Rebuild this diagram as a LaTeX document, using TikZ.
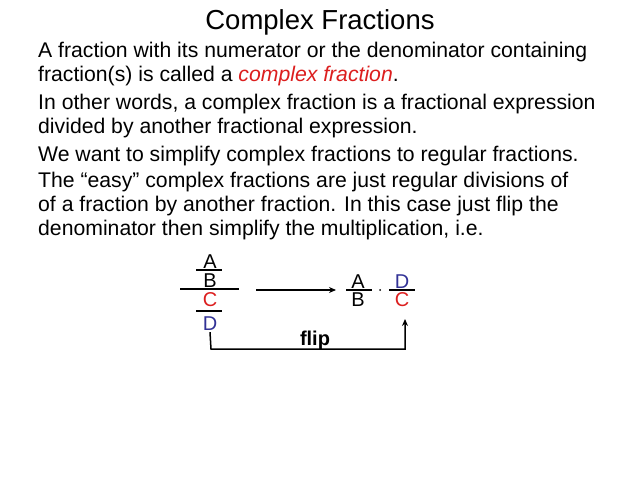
\documentclass[tikz,border=0pt]{standalone}
\usepackage{fontspec}
\usetikzlibrary{arrows.meta}
\setmainfont{Liberation Sans}
\definecolor{myred}{RGB}{220,30,30}
\definecolor{myblue}{RGB}{50,50,150}
\begin{document}
\begin{tikzpicture}[x=1pt,y=-1pt,
  body/.style={anchor=west,inner sep=0,font=\fontsize{21.2}{24}\selectfont},
  lt/.style={inner sep=0,text height=14pt,text depth=0pt,anchor=center,font=\fontsize{20}{22}\selectfont},
  bar/.style={line width=1.3pt},
  arr/.style={-{Stealth[length=7pt,width=6pt]}}]
\useasboundingbox[fill=white] (0,0) rectangle (638,479);
\node[inner sep=0,font=\fontsize{27.5}{30}\selectfont] (title) at (320,22) {Complex Fractions};
\node[body] (l1) at (38,52) {A fraction with its numerator or the denominator containing};
\node[body] (l2) at (38,76) {fraction(s) is called a \textcolor{myred}{\textit{complex fraction}}.};
\node[body] (l3) at (38,104) {In other words, a complex fraction is a fractional expression};
\node[body] (l4) at (38,128) {divided by another fractional expression.};
\node[body] (l5) at (38,156) {We want to simplify complex fractions to regular fractions.};
\node[body] (l6) at (38,182) {The “easy” complex fractions are just regular divisions of};
\node[body] (l7) at (38,206) {of a fraction by another fraction. In this case just flip the};
\node[body] (l8) at (38,230) {denominator then simplify the multiplication, i.e.};
% left complex fraction
\node[lt] (a1) at (210,261) {A};
\node[lt] (b1) at (210,280) {B};
\node[lt,text=myred] (c1) at (210,299) {C};
\node[lt,text=myblue] (d1) at (210,323) {D};
\draw[bar] (196,270) -- (222,270);
\draw[bar] (180,289) -- (239,289);
\draw[bar] (196,311) -- (222,311);
% right
\node[lt] (a2) at (358,281) {A};
\node[lt] (b2) at (358,299) {B};
\draw[bar] (346,290) -- (372,290);
\fill (380,290) circle (1);
\node[lt,text=myblue] (d2) at (402,281) {D};
\node[lt,text=myred] (c2) at (402,299) {C};
\draw[bar] (389,290) -- (415,290);
\coordinate (s) at (256,290);
\coordinate (e) at (336,290);
\draw[line width=1.3pt,arr] (s) -- (e);
\draw[line width=1.5pt,arr] (d1.south) ++(0,2) -- (211,349) -- (405,349) -- (405,319);
\node[inner sep=0,font=\bfseries\fontsize{20}{22}\selectfont] (flip) at (315,340) {flip};
\end{tikzpicture}
\end{document}
